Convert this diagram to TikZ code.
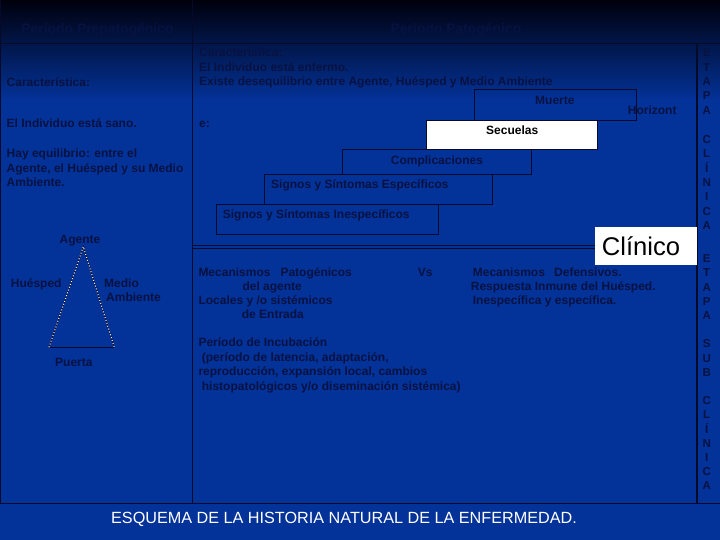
\documentclass[tikz,border=0pt]{standalone}
\usepackage{fontspec}
\setmainfont{Liberation Sans}
\usetikzlibrary{calc}
\definecolor{fondo}{RGB}{3,50,152}
\definecolor{noche}{RGB}{0,0,12}
\definecolor{tinta}{RGB}{8,18,66}
\definecolor{raya}{RGB}{6,10,40}
\tikzset{
 texto/.style={text=tinta, font=\fontsize{12}{14.4}\selectfont\bfseries, inner sep=0pt, anchor=base west, align=left},
 titulo/.style={text=tinta, font=\fontsize{13.9}{16}\selectfont\bfseries, inner sep=0pt, anchor=base},
 letra/.style={text=tinta, font=\fontsize{11.5}{13}\selectfont\bfseries, inner sep=0pt, anchor=base},
 caja/.style={draw=raya, line width=1pt},
}
\begin{document}
\begin{tikzpicture} [x=1pt,y=-1pt]
\useasboundingbox (0,0) rectangle (720,540);
\shade[top color=noche, bottom color=fondo] (0,0) rectangle (720,100);
\fill[fondo] (0,99.5) rectangle (720,540);
\draw[raya, line width=1.3pt] (0.7,0) -- (0.7,503.5);
\draw[raya, line width=1.3pt] (192.5,0) -- (192.5,503.5);
\draw[raya, line width=1.3pt] (697,43.3) -- (697,503.5);
\draw[raya, line width=1.3pt] (0,43.3) -- (720,43.3);
\draw[raya, line width=1.3pt] (0,503.5) -- (720,503.5);
\draw[raya, line width=1pt] (192.5,245) -- (697,245);
\draw[raya, line width=1pt] (192.5,248.5) -- (697,248.5);
\node[titulo] (prepat) at (97.5,34) {Período Prepatogénico};
\node[titulo] (pat) at (456,33.5) {Período Patogénico};
\node[texto] (carac1) at (6.5,86.5) {Característica:};
\node[texto] (sano) at (6.5,128) {El Individuo está sano.};
\node[texto] (equil) at (6.5,186.7) {Hay equilibrio: entre el\\Agente, el Huésped y su Medio\\Ambiente.};
\node[texto] (carac2) at (199,85.5) {Característica:\\El Individuo está enfermo.\\Existe desequilibrio entre Agente, Huésped y Medio Ambiente};
\node[texto] (e) at (199,128) {e:};
\draw[caja] (216.7,204.3) rectangle (438.7,234);
\draw[caja] (264.3,174.3) rectangle (492.3,204.3);
\draw[caja] (342,150) rectangle (531.7,174.3);
\draw[caja, fill=white] (426.7,120.3) rectangle (597.3,150);
\draw[caja] (474.3,90) rectangle (636.7,120.3);
\node[texto] (muerte) at (535,105) {Muerte};
\node[texto] (horiz) at (627.7,114.3) {Horizont};
\node[texto, text=black] (secuelas) at (486,135) {Secuelas};
\node[texto] (compl) at (390.7,164.3) {Complicaciones};
\node[texto] (espec) at (271,188.3) {Signos y Síntomas Específicos};
\node[texto] (inesp) at (222.7,218.3) {Signos y Síntomas Inespecíficos};
\fill[white] (595,227.3) rectangle (696.5,265);
\node[anchor=base west, inner sep=0pt, font=\fontsize{25.6}{28}\selectfont] (clinico) at (601.7,255) {Clínico};
\coordinate (vAg) at (83.3,246.7);
\coordinate (vHu) at (49,347.3);
\coordinate (vMe) at (114.3,347.3);
\draw[raya, line width=1pt] (vHu) -- (vMe);
\draw[raya, line width=1pt] (vHu) -- (vAg) -- (vMe);
\draw[white, line width=1pt, dotted] (vHu) -- (vAg) -- (vMe);
\node[texto, anchor=base] (agente) at (80,243.5) {Agente};
\node[texto] (huesped) at (10.7,287.3) {Huésped};
\node[texto] (medio) at (104,301.7) {Medio\\\hspace*{2pt}Ambiente};
\node[texto] (puerta) at (55,366.7) {Puerta};
\node[texto, font=\fontsize{12}{14.1}\selectfont\bfseries] (mecpat) at (198.3,318.3) {Mecanismos\hspace{10pt}Patogénicos\\\hspace*{44pt}del agente\\Locales y /o sistémicos\\\hspace*{43.4pt}de Entrada};
\node[texto] (vs) at (417.7,276) {Vs};
\node[texto] (incub) at (198.3,390) {Período de Incubación\\\hspace*{3.4pt}(período de latencia, adaptación,\\reproducción, expansión local, cambios\\\hspace*{3.4pt}histopatológicos y/o diseminación sistémica)};
\node[texto, font=\fontsize{12}{14}\selectfont\bfseries] (mecdef) at (472.7,304) {Mecanismos\hspace{9.3pt}Defensivos.\\\hspace*{-2pt}Respuesta Inmune del Huésped.\\Inespecífica y específica.};
\foreach \l [count=\i] in {E,T,A,P,A,,C,L,Í,N,I,C,A}
 \node[letra] (sup\i) at (706.7,{56.7+(\i-1)*14.43}) {\l};
\foreach \l [count=\i] in {E,T,A,P,A,,S,U,B,,C,L,Í,N,I,C,A}
 \node[letra] (inf\i) at (706.7,{262.7+(\i-1)*14.2}) {\l};
\node[anchor=base, text=white, inner sep=0pt, font=\fontsize{16.2}{18}\selectfont] (esquema) at (344,523.3) {ESQUEMA DE LA HISTORIA NATURAL DE LA ENFERMEDAD.};
\end{tikzpicture}
\end{document}
